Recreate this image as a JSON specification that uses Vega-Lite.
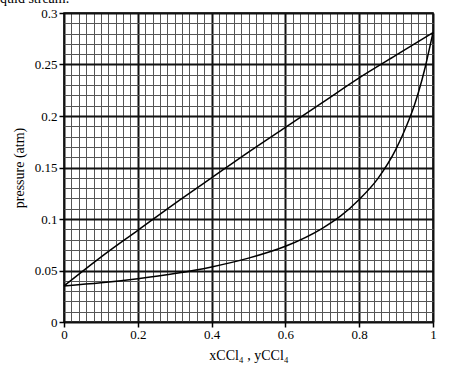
{
  "$schema": "https://vega.github.io/schema/vega-lite/v6.json",
  "autosize": "none",
  "width": 369,
  "height": 309,
  "padding": {"left": 64, "top": 13, "right": 41, "bottom": 58},
  "background": "white",
  "title": {"text": "quid stream.", "anchor": "start", "frame": "group", "dx": -64, "offset": -13, "fontSize": 14, "font": "Liberation Serif", "fontWeight": "normal", "color": "black", "baseline": "bottom"},
  "config": {
    "view": {"stroke": "black", "strokeWidth": 1.5},
    "axis": {"labelFont": "Liberation Serif", "titleFont": "Liberation Serif", "labelFontSize": 13, "titleFontSize": 14, "labelColor": "black", "titleColor": "black", "titleFontWeight": "normal", "domain": false, "tickColor": "black"}
  },
  "data": {"values": [
    {"series": "bubble", "x": 0, "p": 0.035},
    {"series": "bubble", "x": 0.1, "p": 0.063},
    {"series": "bubble", "x": 0.2, "p": 0.089},
    {"series": "bubble", "x": 0.3, "p": 0.115},
    {"series": "bubble", "x": 0.4, "p": 0.140},
    {"series": "bubble", "x": 0.5, "p": 0.165},
    {"series": "bubble", "x": 0.6, "p": 0.189},
    {"series": "bubble", "x": 0.7, "p": 0.213},
    {"series": "bubble", "x": 0.8, "p": 0.237},
    {"series": "bubble", "x": 0.9, "p": 0.259},
    {"series": "bubble", "x": 1, "p": 0.281},
    {"series": "dew", "x": 0, "p": 0.035},
    {"series": "dew", "x": 0.1, "p": 0.038},
    {"series": "dew", "x": 0.2, "p": 0.042},
    {"series": "dew", "x": 0.3, "p": 0.047},
    {"series": "dew", "x": 0.4, "p": 0.0535},
    {"series": "dew", "x": 0.5, "p": 0.062},
    {"series": "dew", "x": 0.6, "p": 0.0735},
    {"series": "dew", "x": 0.7, "p": 0.091},
    {"series": "dew", "x": 0.75, "p": 0.103},
    {"series": "dew", "x": 0.8, "p": 0.119},
    {"series": "dew", "x": 0.85, "p": 0.139},
    {"series": "dew", "x": 0.9, "p": 0.168},
    {"series": "dew", "x": 0.93, "p": 0.192},
    {"series": "dew", "x": 0.95, "p": 0.211},
    {"series": "dew", "x": 0.97, "p": 0.235},
    {"series": "dew", "x": 0.98, "p": 0.249},
    {"series": "dew", "x": 0.99, "p": 0.265},
    {"series": "dew", "x": 1, "p": 0.281}
  ]},
  "mark": {"type": "line", "color": "black", "strokeWidth": 1.5, "interpolate": "monotone"},
  "encoding": {
    "detail": {"field": "series"},
    "x": {"field": "x", "type": "quantitative", "scale": {"domain": [0, 1], "nice": false},
      "axis": {
        "values": [0,0.02,0.04,0.06,0.08,0.1,0.12,0.14,0.16,0.18,0.2,0.22,0.24,0.26,0.28,0.3,0.32,0.34,0.36,0.38,0.4,0.42,0.44,0.46,0.48,0.5,0.52,0.54,0.56,0.58,0.6,0.62,0.64,0.66,0.68,0.7,0.72,0.74,0.76,0.78,0.8,0.82,0.84,0.86,0.88,0.9,0.92,0.94,0.96,0.98,1],
        "format": "~g",
        "labelExpr": "abs(datum.value*5 - round(datum.value*5)) < 0.000001 ? datum.label : ''",
        "grid": true,
        "gridColor": {"condition": {"test": "abs(datum.value*5 - round(datum.value*5)) < 0.000001", "value": "#111111"}, "value": "#555555"},
        "gridWidth": {"condition": {"test": "abs(datum.value*5 - round(datum.value*5)) < 0.000001", "value": 2}, "value": 1},
        "gridOpacity": 1,
        "tickSize": {"condition": {"test": "abs(datum.value*5 - round(datum.value*5)) < 0.000001", "value": 5}, "value": 0},
        "tickWidth": 1.5,
        "labelPadding": 1,
        "labelFlush": false,
        "title": "xCCl₄ , yCCl₄",
        "titlePadding": 7
      }},
    "y": {"field": "p", "type": "quantitative", "scale": {"domain": [0, 0.3], "nice": false},
      "axis": {
        "values": [0,0.01,0.02,0.03,0.04,0.05,0.06,0.07,0.08,0.09,0.1,0.11,0.12,0.13,0.14,0.15,0.16,0.17,0.18,0.19,0.2,0.21,0.22,0.23,0.24,0.25,0.26,0.27,0.28,0.29,0.3],
        "format": "~g",
        "labelExpr": "abs(datum.value*20 - round(datum.value*20)) < 0.000001 ? datum.label : ''",
        "grid": true,
        "gridColor": {"condition": {"test": "abs(datum.value*20 - round(datum.value*20)) < 0.000001", "value": "#111111"}, "value": "#555555"},
        "gridWidth": {"condition": {"test": "abs(datum.value*20 - round(datum.value*20)) < 0.000001", "value": 2}, "value": 1},
        "gridOpacity": 1,
        "tickSize": {"condition": {"test": "abs(datum.value*20 - round(datum.value*20)) < 0.000001", "value": 5}, "value": 0},
        "tickWidth": 1.5,
        "labelPadding": 2,
        "labelFlush": false,
        "title": "pressure (atm)",
        "titlePadding": 8
      }}
  }
}
